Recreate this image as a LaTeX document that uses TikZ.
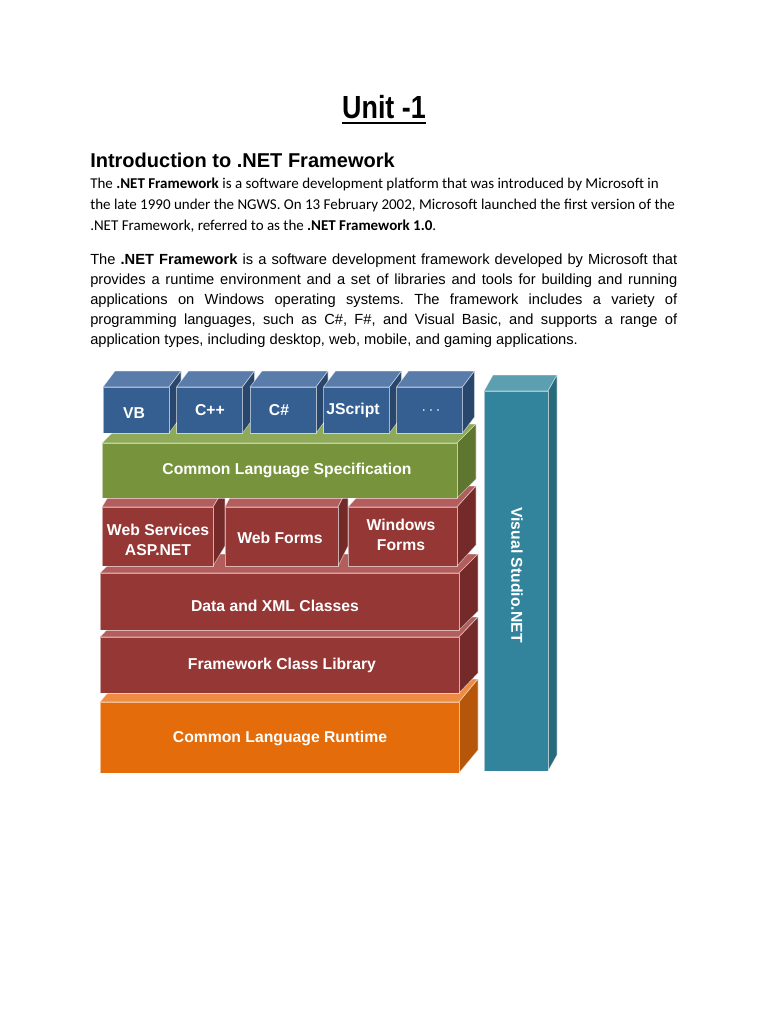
\documentclass[tikz,border=0pt]{standalone}
\usepackage{fontspec}
\setmainfont{Liberation Sans}
\newfontfamily\calfont{Carlito}
\frenchspacing

\definecolor{blueF}{HTML}{365F91}
\definecolor{blueT}{HTML}{5A7CAA}
\definecolor{blueS}{HTML}{29476D}
\definecolor{greenF}{HTML}{77933C}
\definecolor{greenT}{HTML}{8EA957}
\definecolor{greenS}{HTML}{5E7630}
\definecolor{redF}{HTML}{953735}
\definecolor{redT}{HTML}{B35E5C}
\definecolor{redS}{HTML}{742A29}
\definecolor{orangeF}{HTML}{E46C0A}
\definecolor{orangeT}{HTML}{EF8C43}
\definecolor{orangeS}{HTML}{B5560A}
\definecolor{tealF}{HTML}{31849B}
\definecolor{tealT}{HTML}{5C9FB1}
\definecolor{tealS}{HTML}{266A7C}

\tikzset{face/.style={draw=white, draw opacity=0.55, line width=0.5pt, line join=round},
lbl/.style={text=white, font=\bfseries\fontsize{11.8}{15}\selectfont, align=center, inner sep=0pt},
txtline/.style={anchor=base west, inner sep=0pt}}

% front top-left x,y / front bottom-right x,y / depth dx,dy / colour
\newcommand{\slab}[7]{%
\filldraw[face, fill=#7T] (#1,#2) -- (#1+#5,#2-#6) -- (#3+#5,#2-#6) -- (#3,#2) -- cycle;
\filldraw[face, fill=#7S] (#3,#2) -- (#3+#5,#2-#6) -- (#3+#5,#4-#6) -- (#3,#4) -- cycle;
\filldraw[face, fill=#7F] (#1,#2) rectangle (#3,#4);}

\begin{document}
\begin{tikzpicture}[x=0.75pt, y=-0.75pt]
				\fill[white] (0,0) rectangle (768,1024);
				\useasboundingbox (0,0) rectangle (768,1024);
				% heading text
				\node[anchor=base, inner sep=0pt] (title) at (384,118) {\fontsize{24}{28}\selectfont\bfseries\scalebox{0.84}[1]{Unit -1}};
				\draw[line width=1.2pt] ([yshift=-3.8pt]title.base west) -- ([yshift=-3.8pt]title.base east);
				\node[txtline] (intro) at (90,167) {\fontsize{15}{18}\selectfont\bfseries Introduction to .NET Framework};
				\node[txtline] (pa1) at (90,188.5) {\calfont\fontsize{11.25}{13}\selectfont The \textbf{.NET Framework} is a software development platform that was introduced by Microsoft in};
				\node[txtline] (pa2) at (90,209.5) {\calfont\fontsize{11.25}{13}\selectfont the late 1990 under the NGWS. On 13 February 2002, Microsoft launched the first version of the};
				\node[txtline] (pa3) at (90,230.5) {\calfont\fontsize{11.25}{13}\selectfont .NET Framework, referred to as the \textbf{.NET Framework 1.0}.};
				\node[txtline] (pb1) at (90,264.5) {\fontsize{11}{14}\selectfont\makebox[440.25pt][s]{The \textbf{.NET Framework} is a software development framework developed by Microsoft that}};
				\node[txtline] (pb2) at (90,284.5) {\fontsize{11}{14}\selectfont\makebox[440.25pt][s]{provides a runtime environment and a set of libraries and tools for building and running}};
				\node[txtline] (pb3) at (90,304.5) {\fontsize{11}{14}\selectfont\makebox[440.25pt][s]{applications on Windows operating systems. The framework includes a variety of}};
				\node[txtline] (pb4) at (90,324.5) {\fontsize{11}{14}\selectfont\makebox[440.25pt][s]{programming languages, such as C\#, F\#, and Visual Basic, and supports a range of}};
				\node[txtline] (pb5) at (90,344) {\fontsize{11}{14}\selectfont application types, including desktop, web, mobile, and gaming applications.};
				% stack, bottom layer first
				\slab{100}{702}{459}{773}{19}{23}{orange}
				\slab{100}{637}{459}{693}{19}{20}{red}
				\slab{100}{573}{459}{630}{19}{19}{red}
				\slab{102}{507}{213}{566}{12}{20}{red}
				\slab{225}{507}{338}{566}{10}{20}{red}
				\slab{348}{507}{457}{566}{19}{21}{red}
				\slab{102}{443}{457}{498}{19}{19}{green}
				\slab{103}{387}{169}{433}{12}{16}{blue}
				\slab{176.5}{387}{242.5}{433}{12}{16}{blue}
				\slab{250}{387}{316}{433}{12}{16}{blue}
				\slab{323.5}{387}{389.5}{433}{12}{16}{blue}
				\slab{396.5}{387}{462.5}{433}{12}{16}{blue}
				\slab{484}{391}{548}{771}{9}{16}{teal}
				% labels
				\node[lbl] (vb) at (134,413) {VB};
				\node[lbl] (cpp) at (210,410) {C++};
				\node[lbl] (cs) at (279,410) {C\#};
				\node[lbl] (js) at (353,410) {JScript};
				\node[lbl] (more) at (431,411) {$\cdots$};
				\node[lbl] (cls) at (287,470) {Common Language Specification};
				\node[lbl] (websrv) at (158,540) {Web Services\\ASP.NET};
				\node[lbl] (webforms) at (280,538) {Web Forms};
				\node[lbl] (winforms) at (401,535) {Windows\\Forms};
				\node[lbl] (dataxml) at (275,606) {Data and XML Classes};
				\node[lbl] (fcl) at (282,665) {Framework Class Library};
				\node[lbl] (clr) at (280,738) {Common Language Runtime};
				\node[lbl, rotate=-90] (vsnet) at (517,575) {Visual Studio.NET};
			\end{tikzpicture}
\end{document}
